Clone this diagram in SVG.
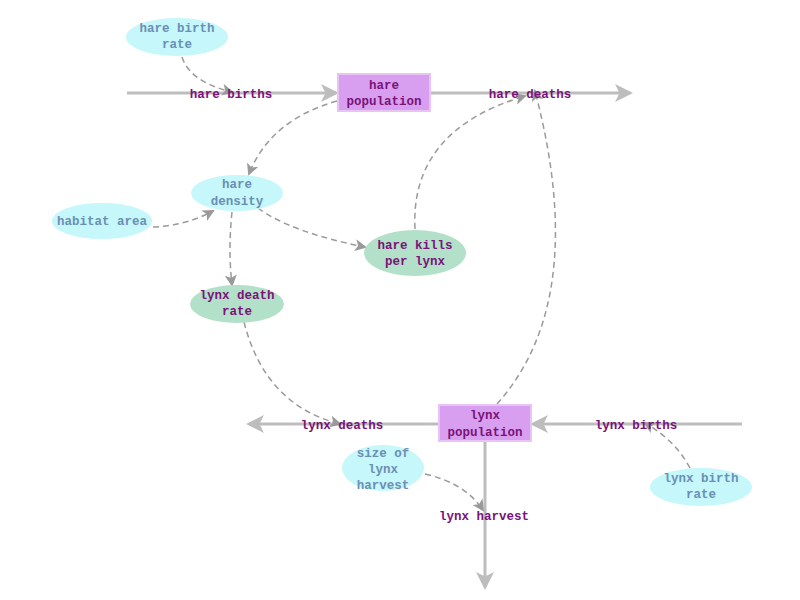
<svg xmlns="http://www.w3.org/2000/svg" width="800" height="600" viewBox="0 0 800 600">
<style>
text{font-family:"Liberation Mono","Courier New",monospace;font-size:12.5px;font-weight:bold;text-anchor:middle}
.aux{fill:#c6f7fb}
.rate{fill:#b3e0c9}
.box{fill:#d89ff0;stroke:#e8c4f4;stroke-width:2}
.tb{fill:#6a8fb4}
.tp{fill:#7a1278}
.flow{stroke:#bdbdbd;stroke-width:3;fill:none}
.dep{stroke:#9a9a9a;stroke-width:1.5;fill:none;stroke-dasharray:6,4}
</style>
<defs>
<marker id="fa" viewBox="0 0 12 12" refX="10" refY="6" markerWidth="6" markerHeight="6" orient="auto" markerUnits="strokeWidth">
<path d="M0,0 L12,6 L0,12 L3,6 Z" fill="#bdbdbd"/>
</marker>
<marker id="da" viewBox="0 0 12 12" refX="10" refY="6" markerWidth="8" markerHeight="8" orient="auto" markerUnits="strokeWidth">
<path d="M0,0 L12,6 L0,12 L3,6 Z" fill="#9a9a9a"/>
</marker>
</defs>
<rect width="800" height="600" fill="#ffffff"/>
<g id="connectors">
<line class="flow" x1="127" y1="93" x2="336" y2="93" marker-end="url(#fa)"/>
<line class="flow" x1="430" y1="93" x2="630" y2="93" marker-end="url(#fa)"/>
<line class="flow" x1="439" y1="424" x2="249" y2="424" marker-end="url(#fa)"/>
<line class="flow" x1="742" y1="424" x2="533" y2="424" marker-end="url(#fa)"/>
<line class="flow" x1="485" y1="441" x2="485" y2="587" marker-end="url(#fa)"/>
<path class="dep" d="M182,57 Q190,82 232,92" marker-end="url(#da)"/>
<path class="dep" d="M337,101 Q270,120 249,174" marker-end="url(#da)"/>
<path class="dep" d="M153,227 Q185,226 213,211" marker-end="url(#da)"/>
<path class="dep" d="M258,208 Q290,232 365,247" marker-end="url(#da)"/>
<path class="dep" d="M415,229 Q410,130 525,96" marker-end="url(#da)"/>
<path class="dep" d="M497,404 Q590,300 535,91" marker-end="url(#da)"/>
<path class="dep" d="M232,212 Q228,250 232,285" marker-end="url(#da)"/>
<path class="dep" d="M244,322 Q265,405 340,424" marker-end="url(#da)"/>
<path class="dep" d="M425,474 Q465,483 483,510" marker-end="url(#da)"/>
<path class="dep" d="M690,468 Q675,440 645,423" marker-end="url(#da)"/>
</g>
<g id="hare-population"><rect class="box" x="338" y="74" width="92" height="37"/><text class="tp" x="384" y="89">hare</text><text class="tp" x="384" y="105">population</text></g>
<g id="lynx-population"><rect class="box" x="439" y="405" width="92" height="36"/><text class="tp" x="485" y="419">lynx</text><text class="tp" x="485" y="436">population</text></g>
<g id="hare-births"><text class="tp" x="231" y="98">hare births</text></g>
<g id="hare-deaths"><text class="tp" x="530" y="98">hare deaths</text></g>
<g id="lynx-deaths"><text class="tp" x="342" y="429">lynx deaths</text></g>
<g id="lynx-births"><text class="tp" x="636" y="429">lynx births</text></g>
<g id="lynx-harvest"><text class="tp" x="484" y="520">lynx harvest</text></g>
<g id="hare-birth-rate"><ellipse class="aux" cx="177" cy="37" rx="51" ry="19"/><text class="tb" x="177" y="32">hare birth</text><text class="tb" x="177" y="48">rate</text></g>
<g id="hare-density"><ellipse class="aux" cx="237" cy="193" rx="46" ry="18"/><text class="tb" x="237" y="188">hare</text><text class="tb" x="237" y="205">density</text></g>
<g id="habitat-area"><ellipse class="aux" cx="102" cy="221" rx="50" ry="18"/><text class="tb" x="102" y="225">habitat area</text></g>
<g id="hare-kills-per-lynx"><ellipse class="rate" cx="415" cy="253" rx="51" ry="23"/><text class="tp" x="415" y="249">hare kills</text><text class="tp" x="415" y="265">per lynx</text></g>
<g id="lynx-death-rate"><ellipse class="rate" cx="237" cy="304" rx="47" ry="19"/><text class="tp" x="237" y="299">lynx death</text><text class="tp" x="237" y="315">rate</text></g>
<g id="size-of-lynx-harvest"><ellipse class="aux" cx="383" cy="468" rx="41" ry="23"/><text class="tb" x="383" y="457">size of</text><text class="tb" x="383" y="473">lynx</text><text class="tb" x="383" y="489">harvest</text></g>
<g id="lynx-birth-rate"><ellipse class="aux" cx="701" cy="487" rx="51" ry="19"/><text class="tb" x="701" y="482">lynx birth</text><text class="tb" x="701" y="498">rate</text></g>
</svg>
